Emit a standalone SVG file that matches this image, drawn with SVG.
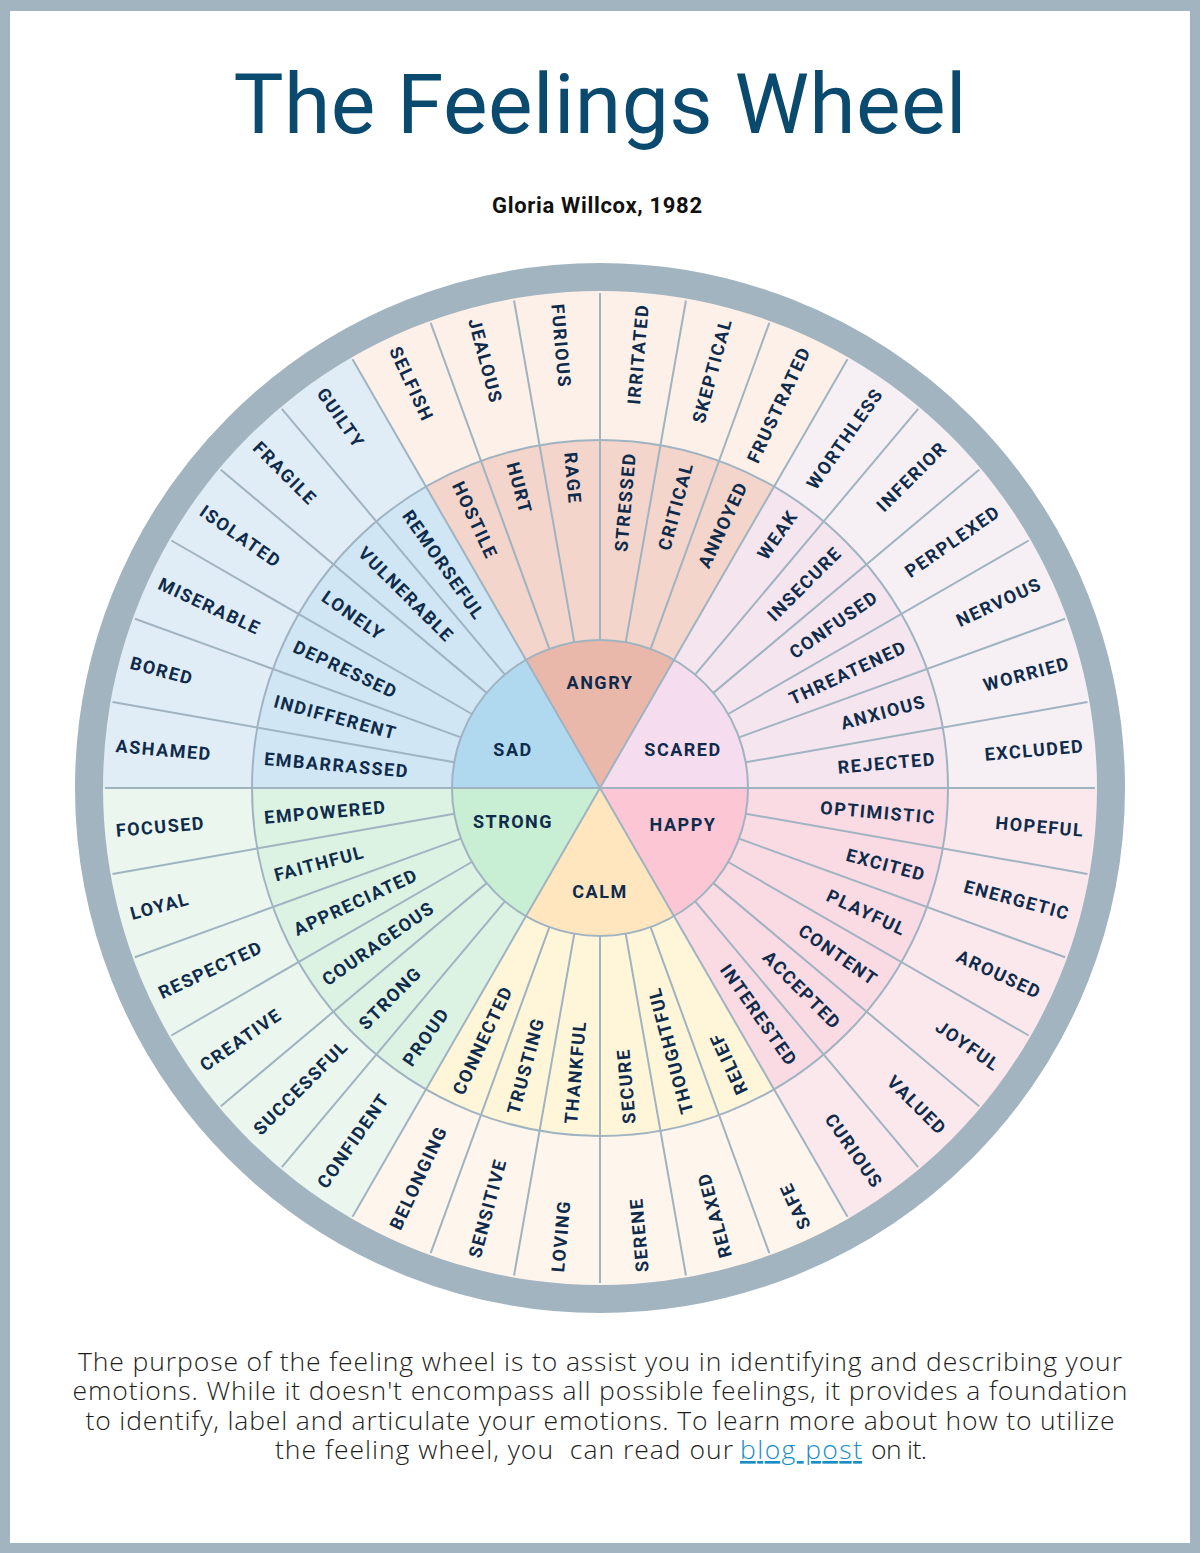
<svg xmlns="http://www.w3.org/2000/svg" width="1200" height="1553" viewBox="0 0 1200 1553">
<style>
.l{font-family:Roboto,"Liberation Sans",sans-serif;font-weight:700;font-size:18px;letter-spacing:1.5px;fill:#0F2B4C}
.i{text-anchor:start}
.o{text-anchor:end}
.c{text-anchor:middle}
.div{stroke:#A0B3C1;stroke-width:2;fill:none}
.para{font-family:"Open Sans","Liberation Sans",sans-serif;font-weight:300;font-size:26.5px;fill:#1E1E1E}
</style>
<rect x="0" y="0" width="1200" height="1553" fill="#A2B4C0"/>
<rect x="10" y="11" width="1180" height="1532" fill="#FFFFFF"/>
<text x="600" y="133" text-anchor="middle" font-family="Roboto,'Liberation Sans',sans-serif" font-size="84" fill="#0B4A6F" textLength="733">The Feelings Wheel</text>
<text x="597" y="213" text-anchor="middle" font-family="Roboto,'Liberation Sans',sans-serif" font-weight="700" font-size="22" fill="#111111" textLength="210">Gloria Willcox, 1982</text>

<g id="wheel">
<circle cx="600" cy="788" r="510" fill="none" stroke="#A2B4C0" stroke-width="30"/>
<g id="angry">
<path d="M600 788L351.5 357.59A497 497 0 0 1 848.5 357.59Z" fill="#FDF0E9"/>
<path d="M600 788L426 486.62A348 348 0 0 1 774 486.62Z" fill="#F4D5CB"/>
<path d="M600 788L526 659.83A148 148 0 0 1 674 659.83Z" fill="#EAB8AA"/>
</g>
<g id="scared">
<path d="M600 788L848.5 357.59A497 497 0 0 1 1097 788Z" fill="#F6F0F4"/>
<path d="M600 788L774 486.62A348 348 0 0 1 948 788Z" fill="#F4E5EE"/>
<path d="M600 788L674 659.83A148 148 0 0 1 748 788Z" fill="#F6DCEF"/>
</g>
<g id="happy">
<path d="M600 788L1097 788A497 497 0 0 1 848.5 1218.41Z" fill="#FBE8ED"/>
<path d="M600 788L948 788A348 348 0 0 1 774 1089.38Z" fill="#FADAE3"/>
<path d="M600 788L748 788A148 148 0 0 1 674 916.17Z" fill="#FCC6D5"/>
</g>
<g id="calm">
<path d="M600 788L848.5 1218.41A497 497 0 0 1 351.5 1218.41Z" fill="#FEF5EC"/>
<path d="M600 788L774 1089.38A348 348 0 0 1 426 1089.38Z" fill="#FFF6DA"/>
<path d="M600 788L674 916.17A148 148 0 0 1 526 916.17Z" fill="#FFE6BE"/>
</g>
<g id="strong">
<path d="M600 788L351.5 1218.41A497 497 0 0 1 103 788Z" fill="#EAF6EE"/>
<path d="M600 788L426 1089.38A348 348 0 0 1 252 788Z" fill="#DCF3E4"/>
<path d="M600 788L526 916.17A148 148 0 0 1 452 788Z" fill="#C8EFD4"/>
</g>
<g id="sad">
<path d="M600 788L103 788A497 497 0 0 1 351.5 357.59Z" fill="#E1EDF6"/>
<path d="M600 788L252 788A348 348 0 0 1 426 486.62Z" fill="#D0E6F4"/>
<path d="M600 788L452 788A148 148 0 0 1 526 659.83Z" fill="#B0D9EF"/>
</g>
</g>

<g id="connectors">
<circle class="div" cx="600" cy="788" r="148"/>
<circle class="div" cx="600" cy="788" r="348"/>
<path class="div" d="M600 788L1095 788M600 788L847.5 1216.68M600 788L352.5 1216.68M600 788L105 788M600 788L352.5 359.32M600 788L847.5 359.32
M745.75 813.7L1087.48 873.96M739.07 838.62L1065.15 957.3M728.17 862L1028.68 1035.5M713.38 883.13L979.19 1106.18M695.13 901.38L918.18 1167.19
M650.62 927.07L769.3 1253.15M625.7 933.75L685.96 1275.48M600 936L600 1283M574.3 933.75L514.04 1275.48M549.38 927.07L430.7 1253.15
M504.87 901.38L281.82 1167.19M486.62 883.13L220.81 1106.18M471.83 862L171.32 1035.5M460.93 838.62L134.85 957.3M454.25 813.7L112.52 873.96
M454.25 762.3L112.52 702.04M460.93 737.38L134.85 618.7M471.83 714L171.32 540.5M486.62 692.87L220.81 469.82M504.87 674.62L281.82 408.81
M549.38 648.93L430.7 322.85M574.3 642.25L514.04 300.52M600 640L600 293M625.7 642.25L685.96 300.52M650.62 648.93L769.3 322.85
M695.13 674.62L918.18 408.81M713.38 692.87L979.19 469.82M728.17 714L1028.68 540.5M739.07 737.38L1065.15 618.7M745.75 762.3L1087.48 702.04"/>
</g>

<g id="labels">
<g id="core">
<text class="l c" x="600" y="688.5">ANGRY</text>
<text class="l c" x="683" y="755.5">SCARED</text>
<text class="l c" x="683" y="831">HAPPY</text>
<text class="l c" x="600" y="897.5">CALM</text>
<text class="l c" x="513" y="827.5">STRONG</text>
<text class="l c" x="513" y="755.5">SAD</text>
</g>
<g id="angry-labels">
<text class="l i" x="114" y="794.5" transform="rotate(65 600 788)">SELFISH</text>
<text class="l i" x="114" y="794.5" transform="rotate(75 600 788)">JEALOUS</text>
<text class="l i" x="114" y="794.5" transform="rotate(85 600 788)">FURIOUS</text>
<text class="l o" x="1086" y="794.5" transform="rotate(-85 600 788)">IRRITATED</text>
<text class="l o" x="1086" y="794.5" transform="rotate(-75 600 788)">SKEPTICAL</text>
<text class="l o" x="1086" y="794.5" transform="rotate(-65 600 788)">FRUSTRATED</text>
<text class="l i" x="263" y="794.5" transform="rotate(65 600 788)">HOSTILE</text>
<text class="l i" x="263" y="794.5" transform="rotate(75 600 788)">HURT</text>
<text class="l i" x="263" y="794.5" transform="rotate(85 600 788)">RAGE</text>
<text class="l o" x="937" y="794.5" transform="rotate(-85 600 788)">STRESSED</text>
<text class="l o" x="937" y="794.5" transform="rotate(-75 600 788)">CRITICAL</text>
<text class="l o" x="937" y="794.5" transform="rotate(-65 600 788)">ANNOYED</text>
</g>
<g id="scared-labels">
<text class="l o" x="1086" y="794.5" transform="rotate(-55 600 788)">WORTHLESS</text>
<text class="l o" x="1086" y="794.5" transform="rotate(-45 600 788)">INFERIOR</text>
<text class="l o" x="1086" y="794.5" transform="rotate(-35 600 788)">PERPLEXED</text>
<text class="l o" x="1086" y="794.5" transform="rotate(-25 600 788)">NERVOUS</text>
<text class="l o" x="1086" y="794.5" transform="rotate(-15 600 788)">WORRIED</text>
<text class="l o" x="1086" y="794.5" transform="rotate(-5 600 788)">EXCLUDED</text>
<text class="l o" x="937" y="794.5" transform="rotate(-55 600 788)">WEAK</text>
<text class="l o" x="937" y="794.5" transform="rotate(-45 600 788)">INSECURE</text>
<text class="l o" x="937" y="794.5" transform="rotate(-35 600 788)">CONFUSED</text>
<text class="l o" x="937" y="794.5" transform="rotate(-25 600 788)">THREATENED</text>
<text class="l o" x="937" y="794.5" transform="rotate(-15 600 788)">ANXIOUS</text>
<text class="l o" x="937" y="794.5" transform="rotate(-5 600 788)">REJECTED</text>
</g>
<g id="happy-labels">
<text class="l o" x="1086" y="794.5" transform="rotate(5 600 788)">HOPEFUL</text>
<text class="l o" x="1086" y="794.5" transform="rotate(15 600 788)">ENERGETIC</text>
<text class="l o" x="1086" y="794.5" transform="rotate(25 600 788)">AROUSED</text>
<text class="l o" x="1086" y="794.5" transform="rotate(35 600 788)">JOYFUL</text>
<text class="l o" x="1086" y="794.5" transform="rotate(45 600 788)">VALUED</text>
<text class="l o" x="1086" y="794.5" transform="rotate(55 600 788)">CURIOUS</text>
<text class="l o" x="937" y="794.5" transform="rotate(5 600 788)">OPTIMISTIC</text>
<text class="l o" x="937" y="794.5" transform="rotate(15 600 788)">EXCITED</text>
<text class="l o" x="937" y="794.5" transform="rotate(25 600 788)">PLAYFUL</text>
<text class="l o" x="937" y="794.5" transform="rotate(35 600 788)">CONTENT</text>
<text class="l o" x="937" y="794.5" transform="rotate(45 600 788)">ACCEPTED</text>
<text class="l o" x="937" y="794.5" transform="rotate(55 600 788)">INTERESTED</text>
</g>
<g id="calm-labels">
<text class="l i" x="114" y="794.5" transform="rotate(245 600 788)">SAFE</text>
<text class="l i" x="114" y="794.5" transform="rotate(255 600 788)">RELAXED</text>
<text class="l i" x="114" y="794.5" transform="rotate(265 600 788)">SERENE</text>
<text class="l i" x="114" y="794.5" transform="rotate(275 600 788)">LOVING</text>
<text class="l i" x="114" y="794.5" transform="rotate(285 600 788)">SENSITIVE</text>
<text class="l i" x="114" y="794.5" transform="rotate(295 600 788)">BELONGING</text>
<text class="l i" x="263" y="794.5" transform="rotate(245 600 788)">RELIEF</text>
<text class="l i" x="263" y="794.5" transform="rotate(255 600 788)">THOUGHTFUL</text>
<text class="l i" x="263" y="794.5" transform="rotate(265 600 788)">SECURE</text>
<text class="l i" x="263" y="794.5" transform="rotate(275 600 788)">THANKFUL</text>
<text class="l i" x="263" y="794.5" transform="rotate(285 600 788)">TRUSTING</text>
<text class="l i" x="263" y="794.5" transform="rotate(295 600 788)">CONNECTED</text>
</g>
<g id="strong-labels">
<text class="l i" x="114" y="794.5" transform="rotate(305 600 788)">CONFIDENT</text>
<text class="l i" x="114" y="794.5" transform="rotate(315 600 788)">SUCCESSFUL</text>
<text class="l i" x="114" y="794.5" transform="rotate(325 600 788)">CREATIVE</text>
<text class="l i" x="114" y="794.5" transform="rotate(335 600 788)">RESPECTED</text>
<text class="l i" x="114" y="794.5" transform="rotate(345 600 788)">LOYAL</text>
<text class="l i" x="114" y="794.5" transform="rotate(355 600 788)">FOCUSED</text>
<text class="l i" x="263" y="794.5" transform="rotate(305 600 788)">PROUD</text>
<text class="l i" x="263" y="794.5" transform="rotate(315 600 788)">STRONG</text>
<text class="l i" x="263" y="794.5" transform="rotate(325 600 788)">COURAGEOUS</text>
<text class="l i" x="263" y="794.5" transform="rotate(335 600 788)">APPRECIATED</text>
<text class="l i" x="263" y="794.5" transform="rotate(345 600 788)">FAITHFUL</text>
<text class="l i" x="263" y="794.5" transform="rotate(355 600 788)">EMPOWERED</text>
</g>
<g id="sad-labels">
<text class="l i" x="114" y="794.5" transform="rotate(5 600 788)">ASHAMED</text>
<text class="l i" x="114" y="794.5" transform="rotate(15 600 788)">BORED</text>
<text class="l i" x="114" y="794.5" transform="rotate(25 600 788)">MISERABLE</text>
<text class="l i" x="114" y="794.5" transform="rotate(35 600 788)">ISOLATED</text>
<text class="l i" x="114" y="794.5" transform="rotate(45 600 788)">FRAGILE</text>
<text class="l i" x="114" y="794.5" transform="rotate(55 600 788)">GUILTY</text>
<text class="l i" x="263" y="794.5" transform="rotate(5 600 788)">EMBARRASSED</text>
<text class="l i" x="263" y="794.5" transform="rotate(15 600 788)">INDIFFERENT</text>
<text class="l i" x="263" y="794.5" transform="rotate(25 600 788)">DEPRESSED</text>
<text class="l i" x="263" y="794.5" transform="rotate(35 600 788)">LONELY</text>
<text class="l i" x="263" y="794.5" transform="rotate(45 600 788)">VULNERABLE</text>
<text class="l i" x="263" y="794.5" transform="rotate(55 600 788)">REMORSEFUL</text>
</g>
</g>

<g id="description">
<text class="para" x="600" y="1371" text-anchor="middle" textLength="1044">The purpose of the feeling wheel is to assist you in identifying and describing your</text>
<text class="para" x="600" y="1400" text-anchor="middle" textLength="1055">emotions. While it doesn't encompass all possible feelings, it provides a foundation</text>
<text class="para" x="600" y="1430" text-anchor="middle" textLength="1029">to identify, label and articulate your emotions. To learn more about how to utilize</text>
<text class="para" x="275" y="1459" textLength="458" style="white-space:pre">the feeling wheel, you  can read our</text>
<text class="para" x="740" y="1459" textLength="122" style="fill:#1A8DC6" text-decoration="underline">blog post</text>
<text class="para" x="871" y="1459" textLength="56">on it.</text>
</g>
</svg>
